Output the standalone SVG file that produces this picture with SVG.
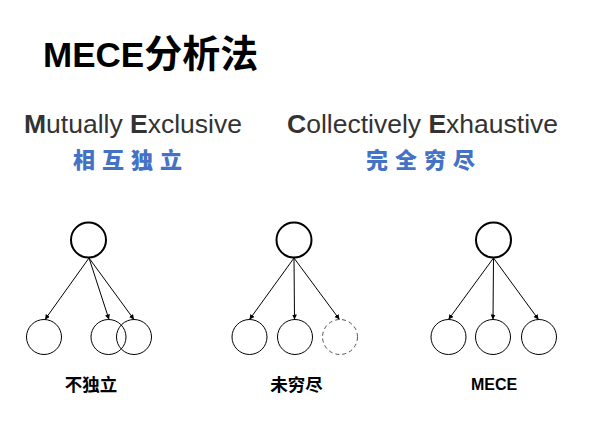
<svg xmlns="http://www.w3.org/2000/svg" width="589" height="439" viewBox="0 0 589 439">
<defs>
<marker id="arr" viewBox="0 0 10 10" refX="10" refY="5" markerWidth="5" markerHeight="5" markerUnits="userSpaceOnUse" orient="auto">
<path d="M0,0 L10,5 L0,10 Z" fill="#000"/>
</marker>
</defs>
<style>
.title{font-family:"Liberation Sans","Noto Sans CJK SC",sans-serif;font-weight:bold;font-size:35px;fill:#000}
.title .c{font-family:"Noto Sans CJK SC",sans-serif;font-size:38px}
.sub{font-family:"Liberation Sans",sans-serif;font-size:26.5px;fill:#333}
.sub .b{font-weight:bold}
.cn{font-family:"Noto Sans CJK SC",sans-serif;font-weight:900;font-size:22px;fill:#4472C4;letter-spacing:7px}
.lbl{font-family:"Liberation Sans","Noto Sans CJK SC",sans-serif;font-weight:bold;font-size:16px;fill:#000;text-anchor:middle}
.lbl.c{font-family:"Noto Sans CJK SC",sans-serif;font-size:17.5px}
.root{fill:#fff;stroke:#000;stroke-width:2}
.leaf{fill:none;stroke:#000;stroke-width:1}
.dash{fill:none;stroke:#555;stroke-width:1;stroke-dasharray:4 3}
.edge{stroke:#000;stroke-width:1;fill:none;marker-end:url(#arr)}
</style>
<rect width="589" height="439" fill="#fff"/>
<text class="title" x="43" y="67">MECE<tspan class="c">分析法</tspan></text>
<text class="sub" x="24" y="132.5"><tspan class="b">M</tspan>utually <tspan class="b">E</tspan>xclusive</text>
<text class="sub" x="287" y="132.5"><tspan class="b">C</tspan>ollectively <tspan class="b">E</tspan>xhaustive</text>
<text class="cn" x="73" y="167.5">相互独立</text>
<text class="cn" x="366" y="167.5">完全穷尽</text>
<g id="connectors">
<line class="edge" x1="89" y1="258" x2="45" y2="319.5"/>
<line class="edge" x1="89" y1="258" x2="109" y2="319.5"/>
<line class="edge" x1="89" y1="258" x2="134" y2="319.5"/>
<line class="edge" x1="294" y1="258" x2="249.5" y2="319.5"/>
<line class="edge" x1="294" y1="258" x2="294.5" y2="319.5"/>
<line class="edge" x1="294" y1="258" x2="339.5" y2="319.5"/>
<line class="edge" x1="493.5" y1="258" x2="448.5" y2="319.5"/>
<line class="edge" x1="493.5" y1="258" x2="493" y2="319.5"/>
<line class="edge" x1="493.5" y1="258" x2="538.5" y2="319.5"/>
</g>
<g id="g1">
<circle id="g1-root" class="root" cx="88.5" cy="240" r="17.5"/>
<circle id="g1-a" class="leaf" cx="44" cy="337" r="17.5"/>
<circle id="g1-b" class="leaf" cx="108.5" cy="337" r="17.5"/>
<circle id="g1-c" class="leaf" cx="134" cy="337" r="17.5"/>
<text class="lbl c" x="91" y="391">不独立</text>
</g>
<g id="g2">
<circle id="g2-root" class="root" cx="294" cy="240" r="17.5"/>
<circle id="g2-a" class="leaf" cx="249.5" cy="337" r="17.5"/>
<circle id="g2-b" class="leaf" cx="295" cy="337" r="17.5"/>
<circle id="g2-c" class="dash" cx="340" cy="337" r="17.5"/>
<text class="lbl c" x="296.5" y="391">未穷尽</text>
</g>
<g id="g3">
<circle id="g3-root" class="root" cx="493.5" cy="240" r="17.5"/>
<circle id="g3-a" class="leaf" cx="448.5" cy="337" r="17.5"/>
<circle id="g3-b" class="leaf" cx="493" cy="337" r="17.5"/>
<circle id="g3-c" class="leaf" cx="539" cy="337" r="17.5"/>
<text class="lbl" x="494" y="390">MECE</text>
</g>
</svg>
